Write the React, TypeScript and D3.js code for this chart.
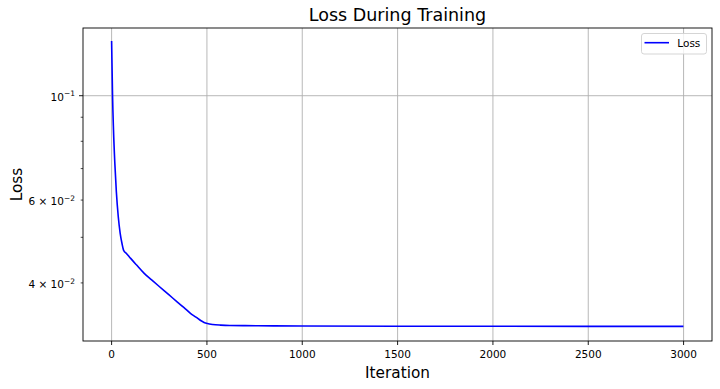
import React from 'react';
import * as d3 from 'd3';

// readings (iteration, loss)
const iterations = [
  0, 2, 5, 10, 17, 25, 35, 45, 55, 63, 80, 100, 130, 171, 210, 250, 300, 345, 380, 415, 445,
  467, 485, 502, 530, 572, 620, 700, 850, 1000, 1500, 2000, 2500, 2999,
];
const losses = [
  0.1307, 0.1174, 0.1, 0.0845, 0.0718, 0.0624, 0.0553, 0.051, 0.0484, 0.0469, 0.0461, 0.0451,
  0.0437, 0.0419, 0.04059, 0.0393, 0.03776, 0.03642, 0.03543, 0.03443, 0.03378, 0.03327, 0.03297,
  0.0328, 0.03264, 0.03253, 0.03247, 0.03245, 0.03242, 0.0324, 0.03236, 0.03235, 0.03234, 0.03234,
];
const xTicks = [0, 500, 1000, 1500, 2000, 2500, 3000];
const yMajor = [0.1];
const yMinor = [0.04, 0.05, 0.06, 0.07, 0.08, 0.09];
const yLabelled: { v: number; mant: string; exp: string }[] = [
  { v: 0.1, mant: '', exp: '−1' },
  { v: 0.06, mant: '6 × ', exp: '−2' },
  { v: 0.04, mant: '4 × ', exp: '−2' },
];

const W = 720;
const H = 389;
const left = 83;
const right = 712;
const top = 28;
const bottom = 341;
const font = 'DejaVu Sans, sans-serif';

const App: React.FC = () => {
  const x = d3.scaleLinear().domain([-150, 3149]).range([left, right]);
  const y = d3.scaleLog().domain([0.0301, 0.1393]).range([bottom, top]);
  const data = iterations.map((it, i) => ({ it, v: losses[i] }));
  const line = d3
    .line<{ it: number; v: number }>()
    .x((d) => x(d.it))
    .y((d) => y(d.v))
    .curve(d3.curveMonotoneX);

  return (
    <svg
      width={W}
      height={H}
      style={{ position: 'absolute', left: 0, top: 0, background: '#fff' }}
      fontFamily={font}
    >
      <rect x={0} y={0} width={W} height={H} fill="#fff" />
      {/* grid */}
      {xTicks.map((t) => (
        <line key={'gx' + t} x1={x(t)} x2={x(t)} y1={top} y2={bottom} stroke="#b0b0b0" strokeWidth={0.9} />
      ))}
      {yMajor.map((t) => (
        <line key={'gy' + t} x1={left} x2={right} y1={y(t)} y2={y(t)} stroke="#b0b0b0" strokeWidth={0.9} />
      ))}

      <path d={line(data) ?? ''} fill="none" stroke="#0000ff" strokeWidth={1.6} />

      {/* spines */}
      <rect x={left} y={top} width={right - left} height={bottom - top} fill="none" stroke="#000" strokeWidth={0.9} />

      {/* x ticks */}
      {xTicks.map((t) => (
        <g key={'xt' + t}>
          <line x1={x(t)} x2={x(t)} y1={bottom} y2={bottom + 4} stroke="#000" strokeWidth={0.9} />
          <text x={x(t)} y={bottom + 17} fontSize={10.5} textAnchor="middle" fill="#000">
            {t}
          </text>
        </g>
      ))}

      {/* y ticks */}
      {yMajor.map((t) => (
        <line key={'ym' + t} x1={left - 4} x2={left} y1={y(t)} y2={y(t)} stroke="#000" strokeWidth={0.9} />
      ))}
      {yMinor.map((t) => (
        <line key={'yn' + t} x1={left - 2.3} x2={left} y1={y(t)} y2={y(t)} stroke="#000" strokeWidth={0.7} />
      ))}
      {yLabelled.map((d) => (
        <text key={'yl' + d.v} x={left - 8} y={y(d.v) + 5} fontSize={10.5} textAnchor="end" fill="#000">
          {d.mant}10
          <tspan fontSize={7.5} dy={-4.3}>
            {d.exp}
          </tspan>
        </text>
      ))}

      {/* labels */}
      <text x={(left + right) / 2} y={21} fontSize={17.5} textAnchor="middle" fill="#000">
        Loss During Training
      </text>
      <text x={(left + right) / 2} y={377.5} fontSize={15.3} textAnchor="middle" fill="#000">
        Iteration
      </text>
      <text
        transform={`translate(22,${(top + bottom) / 2}) rotate(-90)`}
        fontSize={15.3}
        textAnchor="middle"
        fill="#000"
      >
        Loss
      </text>

      {/* legend */}
      <rect x={641.5} y={33.5} width={65} height={20.5} rx={2.5} fill="#fff" fillOpacity={0.8} stroke="#d0d0d0" strokeWidth={0.9} />
      <line x1={644.5} x2={669} y1={42.7} y2={42.7} stroke="#0000ff" strokeWidth={1.6} />
      <text x={677.3} y={46.5} fontSize={10.5} fill="#000">
        Loss
      </text>
    </svg>
  );
};

export default App;
